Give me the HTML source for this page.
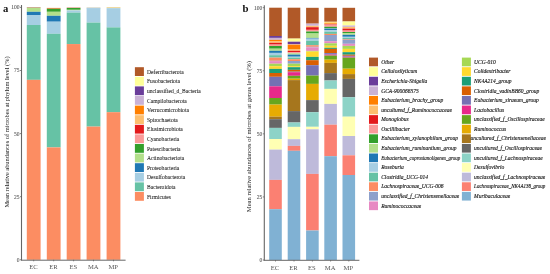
<!DOCTYPE html>
<html><head><meta charset="utf-8"><style>
html,body{margin:0;padding:0;background:#fff;width:550px;height:274px;overflow:hidden;font-family:"Liberation Serif",serif;}
svg{display:block;will-change:transform}
</style></head><body>
<svg width="550" height="274" viewBox="0 0 550 274" font-family="Liberation Serif, serif"><rect x="26.80" y="7.00" width="13.80" height="0.75" fill="#FB9A99"/>
<rect x="26.80" y="7.75" width="13.80" height="0.25" fill="#33A02C"/>
<rect x="26.80" y="8.00" width="13.80" height="3.80" fill="#B2DF8A"/>
<rect x="26.80" y="11.80" width="13.80" height="3.20" fill="#1F78B4"/>
<rect x="26.80" y="15.00" width="13.80" height="10.00" fill="#A6CEE3"/>
<rect x="26.80" y="25.00" width="13.80" height="54.85" fill="#66C2A5"/>
<rect x="26.80" y="79.85" width="13.80" height="179.95" fill="#FC8D62"/>
<rect x="46.80" y="7.90" width="13.80" height="0.90" fill="#F47B36"/>
<rect x="46.80" y="8.80" width="13.80" height="3.00" fill="#33A02C"/>
<rect x="46.80" y="11.80" width="13.80" height="4.00" fill="#B2DF8A"/>
<rect x="46.80" y="15.80" width="13.80" height="5.90" fill="#1F78B4"/>
<rect x="46.80" y="21.70" width="13.80" height="12.10" fill="#A6CEE3"/>
<rect x="46.80" y="33.80" width="13.80" height="113.60" fill="#66C2A5"/>
<rect x="46.80" y="147.40" width="13.80" height="112.40" fill="#FC8D62"/>
<rect x="66.70" y="7.30" width="13.80" height="0.60" fill="#FB9A99"/>
<rect x="66.70" y="7.90" width="13.80" height="1.90" fill="#33A02C"/>
<rect x="66.70" y="9.80" width="13.80" height="0.60" fill="#B2DF8A"/>
<rect x="66.70" y="10.40" width="13.80" height="2.20" fill="#A6CEE3"/>
<rect x="66.70" y="12.60" width="13.80" height="31.47" fill="#66C2A5"/>
<rect x="66.70" y="44.07" width="13.80" height="215.73" fill="#FC8D62"/>
<rect x="86.60" y="7.35" width="13.80" height="0.30" fill="#FDBF6F"/>
<rect x="86.60" y="7.65" width="13.80" height="0.45" fill="#A6CEE3"/>
<rect x="86.60" y="8.10" width="13.80" height="0.30" fill="#1F78B4"/>
<rect x="86.60" y="8.40" width="13.80" height="14.20" fill="#A6CEE3"/>
<rect x="86.60" y="22.60" width="13.80" height="104.00" fill="#66C2A5"/>
<rect x="86.60" y="126.60" width="13.80" height="133.20" fill="#FC8D62"/>
<rect x="106.60" y="7.20" width="13.80" height="0.60" fill="#FDBF6F"/>
<rect x="106.60" y="7.80" width="13.80" height="0.40" fill="#B2DF8A"/>
<rect x="106.60" y="8.20" width="13.80" height="19.20" fill="#A6CEE3"/>
<rect x="106.60" y="27.40" width="13.80" height="84.80" fill="#66C2A5"/>
<rect x="106.60" y="112.20" width="13.80" height="147.60" fill="#FC8D62"/>
<rect x="269.20" y="7.70" width="12.60" height="28.30" fill="#B15928"/>
<rect x="269.20" y="36.00" width="12.60" height="1.90" fill="#6A3D9A"/>
<rect x="269.20" y="37.90" width="12.60" height="1.95" fill="#CAB2D6"/>
<rect x="269.20" y="39.85" width="12.60" height="1.65" fill="#FF7F00"/>
<rect x="269.20" y="41.50" width="12.60" height="1.30" fill="#FDBF6F"/>
<rect x="269.20" y="42.80" width="12.60" height="1.80" fill="#E31A1C"/>
<rect x="269.20" y="44.60" width="12.60" height="1.40" fill="#FB9A99"/>
<rect x="269.20" y="46.00" width="12.60" height="2.70" fill="#33A02C"/>
<rect x="269.20" y="48.70" width="12.60" height="2.10" fill="#B2DF8A"/>
<rect x="269.20" y="50.80" width="12.60" height="2.10" fill="#1F78B4"/>
<rect x="269.20" y="52.90" width="12.60" height="2.30" fill="#A6CEE3"/>
<rect x="269.20" y="55.20" width="12.60" height="2.40" fill="#66C2A5"/>
<rect x="269.20" y="57.60" width="12.60" height="3.20" fill="#FC8D62"/>
<rect x="269.20" y="60.80" width="12.60" height="0.30" fill="#8DA0CB"/>
<rect x="269.20" y="61.10" width="12.60" height="2.60" fill="#E78AC3"/>
<rect x="269.20" y="63.70" width="12.60" height="2.50" fill="#A6D854"/>
<rect x="269.20" y="66.20" width="12.60" height="2.70" fill="#FFD92F"/>
<rect x="269.20" y="68.90" width="12.60" height="4.10" fill="#1B9E77"/>
<rect x="269.20" y="73.00" width="12.60" height="3.80" fill="#D95F02"/>
<rect x="269.20" y="76.80" width="12.60" height="9.50" fill="#7570B3"/>
<rect x="269.20" y="86.30" width="12.60" height="11.70" fill="#E7298A"/>
<rect x="269.20" y="98.00" width="12.60" height="6.60" fill="#66A61E"/>
<rect x="269.20" y="104.60" width="12.60" height="12.10" fill="#E6AB02"/>
<rect x="269.20" y="116.70" width="12.60" height="2.50" fill="#A6761D"/>
<rect x="269.20" y="119.20" width="12.60" height="8.70" fill="#666666"/>
<rect x="269.20" y="127.90" width="12.60" height="11.10" fill="#8DD3C7"/>
<rect x="269.20" y="139.00" width="12.60" height="10.60" fill="#FFFFB3"/>
<rect x="269.20" y="149.60" width="12.60" height="30.30" fill="#BEBADA"/>
<rect x="269.20" y="179.90" width="12.60" height="29.30" fill="#FB8072"/>
<rect x="269.20" y="209.20" width="12.60" height="50.80" fill="#80B1D3"/>
<rect x="287.70" y="7.70" width="12.60" height="30.90" fill="#B15928"/>
<rect x="287.70" y="38.60" width="12.60" height="3.10" fill="#FFFF99"/>
<rect x="287.70" y="41.70" width="12.60" height="2.30" fill="#6A3D9A"/>
<rect x="287.70" y="44.00" width="12.60" height="0.60" fill="#CAB2D6"/>
<rect x="287.70" y="44.60" width="12.60" height="4.40" fill="#FF7F00"/>
<rect x="287.70" y="49.00" width="12.60" height="1.80" fill="#FDBF6F"/>
<rect x="287.70" y="50.80" width="12.60" height="1.50" fill="#E31A1C"/>
<rect x="287.70" y="52.30" width="12.60" height="0.90" fill="#FB9A99"/>
<rect x="287.70" y="53.20" width="12.60" height="1.40" fill="#B2DF8A"/>
<rect x="287.70" y="54.60" width="12.60" height="2.10" fill="#1F78B4"/>
<rect x="287.70" y="56.70" width="12.60" height="0.90" fill="#A6CEE3"/>
<rect x="287.70" y="57.60" width="12.60" height="1.60" fill="#66C2A5"/>
<rect x="287.70" y="59.20" width="12.60" height="1.80" fill="#FC8D62"/>
<rect x="287.70" y="61.00" width="12.60" height="2.70" fill="#8DA0CB"/>
<rect x="287.70" y="63.70" width="12.60" height="2.50" fill="#A6D854"/>
<rect x="287.70" y="66.20" width="12.60" height="1.00" fill="#FFD92F"/>
<rect x="287.70" y="67.20" width="12.60" height="2.65" fill="#1B9E77"/>
<rect x="287.70" y="69.85" width="12.60" height="1.85" fill="#D95F02"/>
<rect x="287.70" y="71.70" width="12.60" height="0.50" fill="#7570B3"/>
<rect x="287.70" y="72.20" width="12.60" height="3.60" fill="#E7298A"/>
<rect x="287.70" y="75.80" width="12.60" height="2.90" fill="#66A61E"/>
<rect x="287.70" y="78.70" width="12.60" height="1.40" fill="#E6AB02"/>
<rect x="287.70" y="80.10" width="12.60" height="31.00" fill="#A6761D"/>
<rect x="287.70" y="111.10" width="12.60" height="11.40" fill="#666666"/>
<rect x="287.70" y="122.50" width="12.60" height="4.40" fill="#8DD3C7"/>
<rect x="287.70" y="126.90" width="12.60" height="12.30" fill="#FFFFB3"/>
<rect x="287.70" y="139.20" width="12.60" height="6.70" fill="#BEBADA"/>
<rect x="287.70" y="145.90" width="12.60" height="4.90" fill="#FB8072"/>
<rect x="287.70" y="150.80" width="12.60" height="109.20" fill="#80B1D3"/>
<rect x="306.10" y="7.80" width="12.60" height="15.85" fill="#B15928"/>
<rect x="306.10" y="23.65" width="12.60" height="2.15" fill="#CAB2D6"/>
<rect x="306.10" y="25.80" width="12.60" height="1.40" fill="#FDBF6F"/>
<rect x="306.10" y="27.20" width="12.60" height="2.65" fill="#E31A1C"/>
<rect x="306.10" y="29.85" width="12.60" height="1.65" fill="#FB9A99"/>
<rect x="306.10" y="31.50" width="12.60" height="2.00" fill="#33A02C"/>
<rect x="306.10" y="33.50" width="12.60" height="4.40" fill="#B2DF8A"/>
<rect x="306.10" y="37.90" width="12.60" height="0.75" fill="#1F78B4"/>
<rect x="306.10" y="38.65" width="12.60" height="2.15" fill="#A6CEE3"/>
<rect x="306.10" y="40.80" width="12.60" height="4.40" fill="#66C2A5"/>
<rect x="306.10" y="45.20" width="12.60" height="1.60" fill="#FC8D62"/>
<rect x="306.10" y="46.80" width="12.60" height="0.50" fill="#8DA0CB"/>
<rect x="306.10" y="47.30" width="12.60" height="3.60" fill="#E78AC3"/>
<rect x="306.10" y="50.90" width="12.60" height="0.70" fill="#A6D854"/>
<rect x="306.10" y="51.60" width="12.60" height="5.30" fill="#FFD92F"/>
<rect x="306.10" y="56.90" width="12.60" height="3.30" fill="#1B9E77"/>
<rect x="306.10" y="60.20" width="12.60" height="5.00" fill="#D95F02"/>
<rect x="306.10" y="65.20" width="12.60" height="10.40" fill="#7570B3"/>
<rect x="306.10" y="75.60" width="12.60" height="8.30" fill="#66A61E"/>
<rect x="306.10" y="83.90" width="12.60" height="16.20" fill="#E6AB02"/>
<rect x="306.10" y="100.10" width="12.60" height="12.10" fill="#666666"/>
<rect x="306.10" y="112.20" width="12.60" height="14.60" fill="#8DD3C7"/>
<rect x="306.10" y="126.80" width="12.60" height="2.50" fill="#FFFFB3"/>
<rect x="306.10" y="129.30" width="12.60" height="44.60" fill="#BEBADA"/>
<rect x="306.10" y="173.90" width="12.60" height="56.60" fill="#FB8072"/>
<rect x="306.10" y="230.50" width="12.60" height="29.50" fill="#80B1D3"/>
<rect x="324.30" y="7.80" width="12.60" height="14.00" fill="#B15928"/>
<rect x="324.30" y="21.80" width="12.60" height="0.90" fill="#FFFF99"/>
<rect x="324.30" y="22.70" width="12.60" height="1.10" fill="#FF7F00"/>
<rect x="324.30" y="23.80" width="12.60" height="0.20" fill="#FDBF6F"/>
<rect x="324.30" y="24.00" width="12.60" height="0.60" fill="#E31A1C"/>
<rect x="324.30" y="24.60" width="12.60" height="2.20" fill="#FB9A99"/>
<rect x="324.30" y="26.80" width="12.60" height="1.20" fill="#33A02C"/>
<rect x="324.30" y="28.00" width="12.60" height="0.50" fill="#B2DF8A"/>
<rect x="324.30" y="28.50" width="12.60" height="1.60" fill="#1F78B4"/>
<rect x="324.30" y="30.10" width="12.60" height="1.60" fill="#A6CEE3"/>
<rect x="324.30" y="31.70" width="12.60" height="2.20" fill="#66C2A5"/>
<rect x="324.30" y="33.90" width="12.60" height="1.10" fill="#FC8D62"/>
<rect x="324.30" y="35.00" width="12.60" height="6.20" fill="#8DA0CB"/>
<rect x="324.30" y="41.20" width="12.60" height="2.10" fill="#E78AC3"/>
<rect x="324.30" y="43.30" width="12.60" height="2.50" fill="#A6D854"/>
<rect x="324.30" y="45.80" width="12.60" height="2.00" fill="#FFD92F"/>
<rect x="324.30" y="47.80" width="12.60" height="1.10" fill="#1B9E77"/>
<rect x="324.30" y="48.90" width="12.60" height="4.20" fill="#D95F02"/>
<rect x="324.30" y="53.10" width="12.60" height="1.50" fill="#7570B3"/>
<rect x="324.30" y="54.60" width="12.60" height="1.00" fill="#E7298A"/>
<rect x="324.30" y="55.60" width="12.60" height="4.10" fill="#66A61E"/>
<rect x="324.30" y="59.70" width="12.60" height="3.20" fill="#E6AB02"/>
<rect x="324.30" y="62.90" width="12.60" height="10.20" fill="#A6761D"/>
<rect x="324.30" y="73.10" width="12.60" height="7.40" fill="#666666"/>
<rect x="324.30" y="80.50" width="12.60" height="8.40" fill="#8DD3C7"/>
<rect x="324.30" y="88.90" width="12.60" height="15.00" fill="#FFFFB3"/>
<rect x="324.30" y="103.90" width="12.60" height="20.80" fill="#BEBADA"/>
<rect x="324.30" y="124.70" width="12.60" height="31.50" fill="#FB8072"/>
<rect x="324.30" y="156.20" width="12.60" height="103.80" fill="#80B1D3"/>
<rect x="342.50" y="7.80" width="12.60" height="13.70" fill="#B15928"/>
<rect x="342.50" y="21.50" width="12.60" height="4.00" fill="#FFFF99"/>
<rect x="342.50" y="25.50" width="12.60" height="1.40" fill="#CAB2D6"/>
<rect x="342.50" y="26.90" width="12.60" height="1.70" fill="#FDBF6F"/>
<rect x="342.50" y="28.60" width="12.60" height="2.00" fill="#E31A1C"/>
<rect x="342.50" y="30.60" width="12.60" height="1.40" fill="#FB9A99"/>
<rect x="342.50" y="32.00" width="12.60" height="1.10" fill="#33A02C"/>
<rect x="342.50" y="33.10" width="12.60" height="1.70" fill="#B2DF8A"/>
<rect x="342.50" y="34.80" width="12.60" height="2.00" fill="#1F78B4"/>
<rect x="342.50" y="36.80" width="12.60" height="1.10" fill="#A6CEE3"/>
<rect x="342.50" y="37.90" width="12.60" height="1.10" fill="#66C2A5"/>
<rect x="342.50" y="39.00" width="12.60" height="0.70" fill="#FC8D62"/>
<rect x="342.50" y="39.70" width="12.60" height="4.10" fill="#8DA0CB"/>
<rect x="342.50" y="43.80" width="12.60" height="2.10" fill="#E78AC3"/>
<rect x="342.50" y="45.90" width="12.60" height="3.00" fill="#A6D854"/>
<rect x="342.50" y="48.90" width="12.60" height="3.30" fill="#FFD92F"/>
<rect x="342.50" y="52.20" width="12.60" height="2.50" fill="#1B9E77"/>
<rect x="342.50" y="54.70" width="12.60" height="1.10" fill="#D95F02"/>
<rect x="342.50" y="55.80" width="12.60" height="0.90" fill="#7570B3"/>
<rect x="342.50" y="56.70" width="12.60" height="0.90" fill="#E7298A"/>
<rect x="342.50" y="57.60" width="12.60" height="11.10" fill="#66A61E"/>
<rect x="342.50" y="68.70" width="12.60" height="5.40" fill="#E6AB02"/>
<rect x="342.50" y="74.10" width="12.60" height="4.80" fill="#A6761D"/>
<rect x="342.50" y="78.90" width="12.60" height="18.30" fill="#666666"/>
<rect x="342.50" y="97.20" width="12.60" height="19.50" fill="#8DD3C7"/>
<rect x="342.50" y="116.70" width="12.60" height="19.30" fill="#FFFFB3"/>
<rect x="342.50" y="136.00" width="12.60" height="19.30" fill="#BEBADA"/>
<rect x="342.50" y="155.30" width="12.60" height="19.70" fill="#FB8072"/>
<rect x="342.50" y="175.00" width="12.60" height="85.00" fill="#80B1D3"/>
<line x1="21.50" y1="5.00" x2="21.50" y2="260.30" stroke="#666" stroke-width="1.1"/>
<line x1="21.00" y1="260.20" x2="125.60" y2="260.20" stroke="#666" stroke-width="1.0"/>
<line x1="20.00" y1="7.40" x2="21.50" y2="7.40" stroke="#666" stroke-width="0.8"/>
<text x="19.40" y="9.30" font-size="5.5" fill="#555" text-anchor="end" font-style="normal" font-weight="normal" stroke="#555" stroke-width="0.08">100</text>
<line x1="20.00" y1="70.50" x2="21.50" y2="70.50" stroke="#666" stroke-width="0.8"/>
<text x="19.40" y="72.40" font-size="5.5" fill="#555" text-anchor="end" font-style="normal" font-weight="normal" stroke="#555" stroke-width="0.08">75</text>
<line x1="20.00" y1="133.60" x2="21.50" y2="133.60" stroke="#666" stroke-width="0.8"/>
<text x="19.40" y="135.50" font-size="5.5" fill="#555" text-anchor="end" font-style="normal" font-weight="normal" stroke="#555" stroke-width="0.08">50</text>
<line x1="20.00" y1="196.70" x2="21.50" y2="196.70" stroke="#666" stroke-width="0.8"/>
<text x="19.40" y="198.60" font-size="5.5" fill="#555" text-anchor="end" font-style="normal" font-weight="normal" stroke="#555" stroke-width="0.08">25</text>
<line x1="20.00" y1="259.80" x2="21.50" y2="259.80" stroke="#666" stroke-width="0.8"/>
<text x="19.40" y="261.70" font-size="5.5" fill="#555" text-anchor="end" font-style="normal" font-weight="normal" stroke="#555" stroke-width="0.08">0</text>
<line x1="33.70" y1="259.80" x2="33.70" y2="261.30" stroke="#666" stroke-width="0.8"/>
<text x="33.40" y="269.00" font-size="6.6" fill="#555" text-anchor="middle" font-style="normal" font-weight="normal" >EC</text>
<line x1="53.70" y1="259.80" x2="53.70" y2="261.30" stroke="#666" stroke-width="0.8"/>
<text x="53.40" y="269.00" font-size="6.6" fill="#555" text-anchor="middle" font-style="normal" font-weight="normal" >ER</text>
<line x1="73.60" y1="259.80" x2="73.60" y2="261.30" stroke="#666" stroke-width="0.8"/>
<text x="73.30" y="269.00" font-size="6.6" fill="#555" text-anchor="middle" font-style="normal" font-weight="normal" >ES</text>
<line x1="93.50" y1="259.80" x2="93.50" y2="261.30" stroke="#666" stroke-width="0.8"/>
<text x="93.20" y="269.00" font-size="6.6" fill="#555" text-anchor="middle" font-style="normal" font-weight="normal" >MA</text>
<line x1="113.50" y1="259.80" x2="113.50" y2="261.30" stroke="#666" stroke-width="0.8"/>
<text x="113.20" y="269.00" font-size="6.6" fill="#555" text-anchor="middle" font-style="normal" font-weight="normal" >MP</text>
<text transform="translate(8.8,132) rotate(-90)" font-size="6.4" fill="#222" text-anchor="middle">Mean relative abundances of microbes at phylum level (%)</text>
<text x="2.90" y="12.10" font-size="10.6" fill="#111" text-anchor="start" font-style="normal" font-weight="bold" >a</text>
<line x1="264.30" y1="5.30" x2="264.30" y2="260.50" stroke="#666" stroke-width="1.1"/>
<line x1="263.80" y1="260.30" x2="359.40" y2="260.30" stroke="#666" stroke-width="1.0"/>
<line x1="262.80" y1="7.70" x2="264.30" y2="7.70" stroke="#666" stroke-width="0.8"/>
<text x="262.20" y="9.60" font-size="5.5" fill="#555" text-anchor="end" font-style="normal" font-weight="normal" stroke="#555" stroke-width="0.08">100</text>
<line x1="262.80" y1="70.78" x2="264.30" y2="70.78" stroke="#666" stroke-width="0.8"/>
<text x="262.20" y="72.68" font-size="5.5" fill="#555" text-anchor="end" font-style="normal" font-weight="normal" stroke="#555" stroke-width="0.08">75</text>
<line x1="262.80" y1="133.85" x2="264.30" y2="133.85" stroke="#666" stroke-width="0.8"/>
<text x="262.20" y="135.75" font-size="5.5" fill="#555" text-anchor="end" font-style="normal" font-weight="normal" stroke="#555" stroke-width="0.08">50</text>
<line x1="262.80" y1="196.93" x2="264.30" y2="196.93" stroke="#666" stroke-width="0.8"/>
<text x="262.20" y="198.83" font-size="5.5" fill="#555" text-anchor="end" font-style="normal" font-weight="normal" stroke="#555" stroke-width="0.08">25</text>
<line x1="262.80" y1="260.00" x2="264.30" y2="260.00" stroke="#666" stroke-width="0.8"/>
<text x="262.20" y="261.90" font-size="5.5" fill="#555" text-anchor="end" font-style="normal" font-weight="normal" stroke="#555" stroke-width="0.08">0</text>
<line x1="275.50" y1="260.00" x2="275.50" y2="261.50" stroke="#666" stroke-width="0.8"/>
<text x="275.00" y="269.60" font-size="6.6" fill="#555" text-anchor="middle" font-style="normal" font-weight="normal" >EC</text>
<line x1="294.00" y1="260.00" x2="294.00" y2="261.50" stroke="#666" stroke-width="0.8"/>
<text x="293.50" y="269.60" font-size="6.6" fill="#555" text-anchor="middle" font-style="normal" font-weight="normal" >ER</text>
<line x1="312.40" y1="260.00" x2="312.40" y2="261.50" stroke="#666" stroke-width="0.8"/>
<text x="311.90" y="269.60" font-size="6.6" fill="#555" text-anchor="middle" font-style="normal" font-weight="normal" >ES</text>
<line x1="330.60" y1="260.00" x2="330.60" y2="261.50" stroke="#666" stroke-width="0.8"/>
<text x="330.10" y="269.60" font-size="6.6" fill="#555" text-anchor="middle" font-style="normal" font-weight="normal" >MA</text>
<line x1="348.80" y1="260.00" x2="348.80" y2="261.50" stroke="#666" stroke-width="0.8"/>
<text x="348.30" y="269.60" font-size="6.6" fill="#555" text-anchor="middle" font-style="normal" font-weight="normal" >MP</text>
<text transform="translate(250.9,136.6) rotate(-90)" font-size="6.6" fill="#222" text-anchor="middle">Mean relative abundances of microbes at genus level (%)</text>
<text x="242.50" y="12.30" font-size="10.8" fill="#111" text-anchor="start" font-style="normal" font-weight="bold" >b</text>
<rect x="134.90" y="67.20" width="9.00" height="8.80" fill="#B15928"/>
<text x="147.00" y="73.75" font-size="5.6" fill="#222" text-anchor="start" font-style="normal" font-weight="normal" stroke="#222" stroke-width="0.06">Deferribacterota</text>
<rect x="134.90" y="76.80" width="9.00" height="8.80" fill="#FFFF99"/>
<text x="147.00" y="83.35" font-size="5.6" fill="#222" text-anchor="start" font-style="normal" font-weight="normal" stroke="#222" stroke-width="0.06">Fusobacteriota</text>
<rect x="134.90" y="86.40" width="9.00" height="8.80" fill="#6A3D9A"/>
<text x="147.00" y="92.95" font-size="5.6" fill="#222" text-anchor="start" font-style="normal" font-weight="normal" stroke="#222" stroke-width="0.06">unclassified_d_Bacteria</text>
<rect x="134.90" y="96.00" width="9.00" height="8.80" fill="#CAB2D6"/>
<text x="147.00" y="102.55" font-size="5.6" fill="#222" text-anchor="start" font-style="normal" font-weight="normal" stroke="#222" stroke-width="0.06">Campilobacterota</text>
<rect x="134.90" y="105.60" width="9.00" height="8.80" fill="#FF7F00"/>
<text x="147.00" y="112.15" font-size="5.6" fill="#222" text-anchor="start" font-style="normal" font-weight="normal" stroke="#222" stroke-width="0.06">Verrucomicrobiota</text>
<rect x="134.90" y="115.20" width="9.00" height="8.80" fill="#FDBF6F"/>
<text x="147.00" y="121.75" font-size="5.6" fill="#222" text-anchor="start" font-style="normal" font-weight="normal" stroke="#222" stroke-width="0.06">Spirochaetota</text>
<rect x="134.90" y="124.80" width="9.00" height="8.80" fill="#E31A1C"/>
<text x="147.00" y="131.35" font-size="5.6" fill="#222" text-anchor="start" font-style="normal" font-weight="normal" stroke="#222" stroke-width="0.06">Elusimicrobiota</text>
<rect x="134.90" y="134.40" width="9.00" height="8.80" fill="#FB9A99"/>
<text x="147.00" y="140.95" font-size="5.6" fill="#222" text-anchor="start" font-style="normal" font-weight="normal" stroke="#222" stroke-width="0.06">Cyanobacteria</text>
<rect x="134.90" y="144.00" width="9.00" height="8.80" fill="#33A02C"/>
<text x="147.00" y="150.55" font-size="5.6" fill="#222" text-anchor="start" font-style="normal" font-weight="normal" stroke="#222" stroke-width="0.06">Patescibacteria</text>
<rect x="134.90" y="153.60" width="9.00" height="8.80" fill="#B2DF8A"/>
<text x="147.00" y="160.15" font-size="5.6" fill="#222" text-anchor="start" font-style="normal" font-weight="normal" stroke="#222" stroke-width="0.06">Actinobacteriota</text>
<rect x="134.90" y="163.20" width="9.00" height="8.80" fill="#1F78B4"/>
<text x="147.00" y="169.75" font-size="5.6" fill="#222" text-anchor="start" font-style="normal" font-weight="normal" stroke="#222" stroke-width="0.06">Proteobacteria</text>
<rect x="134.90" y="172.80" width="9.00" height="8.80" fill="#A6CEE3"/>
<text x="147.00" y="179.35" font-size="5.6" fill="#222" text-anchor="start" font-style="normal" font-weight="normal" stroke="#222" stroke-width="0.06">Desulfobacterota</text>
<rect x="134.90" y="182.40" width="9.00" height="8.80" fill="#66C2A5"/>
<text x="147.00" y="188.95" font-size="5.6" fill="#222" text-anchor="start" font-style="normal" font-weight="normal" stroke="#222" stroke-width="0.06">Bacteroidota</text>
<rect x="134.90" y="192.00" width="9.00" height="8.80" fill="#FC8D62"/>
<text x="147.00" y="198.55" font-size="5.6" fill="#222" text-anchor="start" font-style="normal" font-weight="normal" stroke="#222" stroke-width="0.06">Firmicutes</text>
<rect x="369.00" y="57.60" width="9.00" height="8.70" fill="#B15928"/>
<text x="381.20" y="63.75" font-size="5.5" fill="#111" text-anchor="start" font-style="italic" font-weight="normal"  stroke="#111" stroke-width="0.12">Other</text>
<rect x="369.00" y="67.19" width="9.00" height="8.70" fill="#FFFF99"/>
<text x="381.20" y="73.34" font-size="5.5" fill="#111" text-anchor="start" font-style="italic" font-weight="normal"  stroke="#111" stroke-width="0.12">Cellulosilyticum</text>
<rect x="369.00" y="76.78" width="9.00" height="8.70" fill="#6A3D9A"/>
<text x="381.20" y="82.93" font-size="5.5" fill="#111" text-anchor="start" font-style="italic" font-weight="normal"  stroke="#111" stroke-width="0.12">Escherichia-Shigella</text>
<rect x="369.00" y="86.37" width="9.00" height="8.70" fill="#CAB2D6"/>
<text x="381.20" y="92.52" font-size="5.5" fill="#111" text-anchor="start" font-style="italic" font-weight="normal"  stroke="#111" stroke-width="0.12">GCA-900066575</text>
<rect x="369.00" y="95.96" width="9.00" height="8.70" fill="#FF7F00"/>
<text x="381.20" y="102.11" font-size="5.5" fill="#111" text-anchor="start" font-style="italic" font-weight="normal"  stroke="#111" stroke-width="0.12">Eubacterium_brachy_group</text>
<rect x="369.00" y="105.55" width="9.00" height="8.70" fill="#FDBF6F"/>
<text x="381.20" y="111.70" font-size="5.5" fill="#111" text-anchor="start" font-style="italic" font-weight="normal"  stroke="#111" stroke-width="0.12">uncultured_f_Ruminococcaceae</text>
<rect x="369.00" y="115.14" width="9.00" height="8.70" fill="#E31A1C"/>
<text x="381.20" y="121.29" font-size="5.5" fill="#111" text-anchor="start" font-style="italic" font-weight="normal"  stroke="#111" stroke-width="0.12">Monoglobus</text>
<rect x="369.00" y="124.73" width="9.00" height="8.70" fill="#FB9A99"/>
<text x="381.20" y="130.88" font-size="5.5" fill="#111" text-anchor="start" font-style="italic" font-weight="normal"  stroke="#111" stroke-width="0.12">Oscillibacter</text>
<rect x="369.00" y="134.32" width="9.00" height="8.70" fill="#33A02C"/>
<text x="381.20" y="140.47" font-size="5.5" fill="#111" text-anchor="start" font-style="italic" font-weight="normal"  stroke="#111" stroke-width="0.12">Eubacterium_xylanophilum_group</text>
<rect x="369.00" y="143.91" width="9.00" height="8.70" fill="#B2DF8A"/>
<text x="381.20" y="150.06" font-size="5.5" fill="#111" text-anchor="start" font-style="italic" font-weight="normal"  stroke="#111" stroke-width="0.12">Eubacterium_ruminantium_group</text>
<rect x="369.00" y="153.50" width="9.00" height="8.70" fill="#1F78B4"/>
<text x="381.20" y="159.65" font-size="5.5" fill="#111" text-anchor="start" font-style="italic" font-weight="normal" textLength="79" lengthAdjust="spacingAndGlyphs" stroke="#111" stroke-width="0.12">Eubacterium_coprostanoligenes_group</text>
<rect x="369.00" y="163.09" width="9.00" height="8.70" fill="#A6CEE3"/>
<text x="381.20" y="169.24" font-size="5.5" fill="#111" text-anchor="start" font-style="italic" font-weight="normal"  stroke="#111" stroke-width="0.12">Roseburia</text>
<rect x="369.00" y="172.68" width="9.00" height="8.70" fill="#66C2A5"/>
<text x="381.20" y="178.83" font-size="5.5" fill="#111" text-anchor="start" font-style="italic" font-weight="normal"  stroke="#111" stroke-width="0.12">Clostridia_UCG-014</text>
<rect x="369.00" y="182.27" width="9.00" height="8.70" fill="#FC8D62"/>
<text x="381.20" y="188.42" font-size="5.5" fill="#111" text-anchor="start" font-style="italic" font-weight="normal"  stroke="#111" stroke-width="0.12">Lachnospiraceae_UCG-006</text>
<rect x="369.00" y="191.86" width="9.00" height="8.70" fill="#8DA0CB"/>
<text x="381.20" y="198.01" font-size="5.5" fill="#111" text-anchor="start" font-style="italic" font-weight="normal"  stroke="#111" stroke-width="0.12">unclassified_f_Christensenellaceae</text>
<rect x="369.00" y="201.45" width="9.00" height="8.70" fill="#E78AC3"/>
<text x="381.20" y="207.60" font-size="5.5" fill="#111" text-anchor="start" font-style="italic" font-weight="normal"  stroke="#111" stroke-width="0.12">Ruminococcaceae</text>
<rect x="461.90" y="57.60" width="9.00" height="8.70" fill="#A6D854"/>
<text x="474.10" y="63.75" font-size="5.5" fill="#111" text-anchor="start" font-style="italic" font-weight="normal"  stroke="#111" stroke-width="0.12">UCG-010</text>
<rect x="461.90" y="67.19" width="9.00" height="8.70" fill="#FFD92F"/>
<text x="474.10" y="73.34" font-size="5.5" fill="#111" text-anchor="start" font-style="italic" font-weight="normal"  stroke="#111" stroke-width="0.12">Colidextribacter</text>
<rect x="461.90" y="76.78" width="9.00" height="8.70" fill="#1B9E77"/>
<text x="474.10" y="82.93" font-size="5.5" fill="#111" text-anchor="start" font-style="italic" font-weight="normal"  stroke="#111" stroke-width="0.12">NK4A214_group</text>
<rect x="461.90" y="86.37" width="9.00" height="8.70" fill="#D95F02"/>
<text x="474.10" y="92.52" font-size="5.5" fill="#111" text-anchor="start" font-style="italic" font-weight="normal"  stroke="#111" stroke-width="0.12">Clostridia_vadinBB60_group</text>
<rect x="461.90" y="95.96" width="9.00" height="8.70" fill="#7570B3"/>
<text x="474.10" y="102.11" font-size="5.5" fill="#111" text-anchor="start" font-style="italic" font-weight="normal"  stroke="#111" stroke-width="0.12">Eubacterium_siraeum_group</text>
<rect x="461.90" y="105.55" width="9.00" height="8.70" fill="#E7298A"/>
<text x="474.10" y="111.70" font-size="5.5" fill="#111" text-anchor="start" font-style="italic" font-weight="normal"  stroke="#111" stroke-width="0.12">Lactobacillus</text>
<rect x="461.90" y="115.14" width="9.00" height="8.70" fill="#66A61E"/>
<text x="474.10" y="121.29" font-size="5.5" fill="#111" text-anchor="start" font-style="italic" font-weight="normal"  stroke="#111" stroke-width="0.12">unclassified_f_Oscillospiraceae</text>
<rect x="461.90" y="124.73" width="9.00" height="8.70" fill="#E6AB02"/>
<text x="474.10" y="130.88" font-size="5.5" fill="#111" text-anchor="start" font-style="italic" font-weight="normal"  stroke="#111" stroke-width="0.12">Ruminococcus</text>
<rect x="461.90" y="134.32" width="9.00" height="8.70" fill="#A6761D"/>
<text x="470.60" y="140.47" font-size="5.5" fill="#111" text-anchor="start" font-style="italic" font-weight="normal"  stroke="#111" stroke-width="0.12">uncultured_f_Christensenellaceae</text>
<rect x="461.90" y="143.91" width="9.00" height="8.70" fill="#666666"/>
<text x="474.10" y="150.06" font-size="5.5" fill="#111" text-anchor="start" font-style="italic" font-weight="normal"  stroke="#111" stroke-width="0.12">uncultured_f_Oscillospiraceae</text>
<rect x="461.90" y="153.50" width="9.00" height="8.70" fill="#8DD3C7"/>
<text x="474.10" y="159.65" font-size="5.5" fill="#111" text-anchor="start" font-style="italic" font-weight="normal"  stroke="#111" stroke-width="0.12">uncultured_f_Lachnospiraceae</text>
<rect x="461.90" y="163.09" width="9.00" height="8.70" fill="#FFFFB3"/>
<text x="474.10" y="169.24" font-size="5.5" fill="#111" text-anchor="start" font-style="italic" font-weight="normal"  stroke="#111" stroke-width="0.12">Desulfovibrio</text>
<rect x="461.90" y="172.68" width="9.00" height="8.70" fill="#BEBADA"/>
<text x="474.10" y="178.83" font-size="5.5" fill="#111" text-anchor="start" font-style="italic" font-weight="normal"  stroke="#111" stroke-width="0.12">unclassified_f_Lachnospiraceae</text>
<rect x="461.90" y="182.27" width="9.00" height="8.70" fill="#FB8072"/>
<text x="474.10" y="188.35" font-size="5.3" fill="#111" text-anchor="start" font-style="italic" font-weight="normal" textLength="71.2" lengthAdjust="spacingAndGlyphs" stroke="#111" stroke-width="0.12">Lachnospiraceae_NK4A136_group</text>
<rect x="461.90" y="191.86" width="9.00" height="8.70" fill="#80B1D3"/>
<text x="474.10" y="198.01" font-size="5.5" fill="#111" text-anchor="start" font-style="italic" font-weight="normal"  stroke="#111" stroke-width="0.12">Muribaculaceae</text></svg>
</body></html>
